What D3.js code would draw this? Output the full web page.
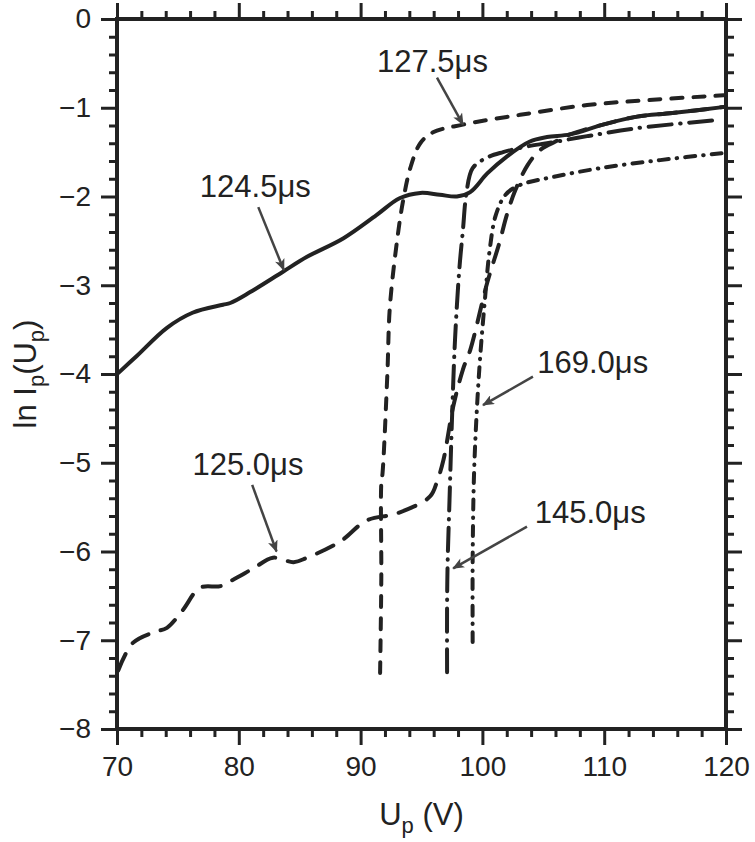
<!DOCTYPE html>
<html>
<head>
<meta charset="utf-8">
<script src="https://cdn.jsdelivr.net/npm/d3@7"></script>
<style>
  body { margin: 0; background: #fff; }
  svg { font-family: "Liberation Sans", Arial, Helvetica, sans-serif; }
  .axis .domain { display: none; }
  .axis line { stroke: #222; stroke-width: 3; }
  .axis text { font-size: 28px; fill: #222; }
</style>
</head>
<body>
<script>
// tick values
const xTicks = [70, 80, 90, 100, 110, 120];
const yTicks = [0, -1, -2, -3, -4, -5, -6, -7, -8];
const xMinor = [72, 74, 76, 78, 82, 84, 86, 88, 92, 94, 96, 98, 102, 104, 106, 108, 112, 114, 116, 118];
const yMinor = d3.range(-8, 0.01, 0.2).map(v => +v.toFixed(1)).filter(v => !Number.isInteger(v));

// 124.5 µs (solid)
const u1245 = [70.1, 71.6, 74.1, 76.2, 78.7, 79.3, 80.9, 83.6, 85.6, 88.6, 91.3, 93.2, 94.9, 96.5, 97.9, 99.0, 100.4, 102.0, 103.9, 105.3, 107.2, 109.9, 112.7, 115.6, 119.9];
const l1245 = [-3.99, -3.80, -3.48, -3.31, -3.22, -3.20, -3.08, -2.85, -2.68, -2.47, -2.21, -2.02, -1.96, -1.98, -2.00, -1.95, -1.74, -1.55, -1.38, -1.33, -1.30, -1.19, -1.10, -1.06, -0.99];

// 127.5 µs (short dashes)
const u1275 = [91.6, 91.7, 91.7, 91.8, 92.2, 92.4, 93.0, 93.5, 94.1, 94.9, 95.9, 98.4, 103.1, 108.6, 114.0, 119.8];
const l1275 = [-7.37, -6.30, -5.23, -5.12, -3.99, -3.25, -2.49, -2.04, -1.67, -1.40, -1.28, -1.19, -1.08, -0.97, -0.91, -0.86];

// 125.0 µs (long dashes)
const u1250 = [70.1, 71.3, 73.0, 74.1, 75.4, 76.8, 78.5, 79.5, 81.2, 82.8, 84.5, 85.6, 88.3, 90.5, 93.0, 95.7, 96.3, 96.8, 97.6, 98.4, 99.0, 100.4, 101.4, 102.0, 102.7, 103.7, 104.7, 106.0, 107.2, 109.9, 112.7, 115.6, 119.9];
const l1250 = [-7.34, -7.03, -6.91, -6.86, -6.66, -6.41, -6.39, -6.32, -6.19, -6.07, -6.12, -6.07, -5.89, -5.65, -5.57, -5.38, -5.20, -4.97, -4.37, -3.95, -3.73, -2.97, -2.52, -2.21, -1.93, -1.65, -1.48, -1.38, -1.30, -1.19, -1.10, -1.06, -0.99];

// 145.0 µs (dash-dot)
const u1450 = [97.1, 97.1, 97.15, 97.3, 97.5, 97.75, 98.1, 98.4, 98.7, 99.2, 100.4, 101.7, 103.9, 105.3, 108.6, 112.7, 119.2];
const l1450 = [-7.36, -6.60, -6.10, -5.42, -4.52, -3.62, -2.83, -2.38, -1.95, -1.68, -1.56, -1.50, -1.43, -1.40, -1.32, -1.23, -1.14];

// 169.0 µs (dash-dot, short)
const u1690 = [99.2, 99.2, 99.3, 99.5, 99.8, 100.2, 100.6, 101.1, 101.9, 103.1, 105.8, 109.7, 114.6, 119.8];
const l1690 = [-7.02, -6.10, -5.19, -4.52, -3.84, -3.17, -2.60, -2.21, -1.98, -1.87, -1.78, -1.68, -1.59, -1.51];

// annotation labels: text position and arrow (from -> to), in data units
const labelText = ['127.5μs', '124.5μs', '125.0μs', '169.0μs', '145.0μs'];
const labelU = [91.35, 76.8, 76.2, 104.5, 104.3];
const labelL = [-0.60, -2.0, -5.14, -3.99, -5.68];
const arrowU0 = [96.27, 81.6, 81.1, 104.15, 103.66];
const arrowL0 = [-0.66, -2.12, -5.25, -4.03, -5.72];
const arrowU1 = [98.41, 83.7, 83.1, 100.05, 97.6];
const arrowL1 = [-1.19, -2.83, -6.0, -4.35, -6.19];

const width = 755, height = 842;
const margin = {top: 19, right: 29, bottom: 113, left: 117};

const svg = d3.select('body').append('svg')
  .attr('width', width)
  .attr('height', height);

const x = d3.scaleLinear().domain([70, 120]).range([margin.left, width - margin.right]);
const y = d3.scaleLinear().domain([-8, 0]).range([height - margin.bottom, margin.top]);

const fmt = d3.format('d');

// axes: major ticks with labels on bottom/left, outward ticks everywhere
svg.append('g').attr('class', 'axis')
  .attr('transform', `translate(0,${y(-8)})`)
  .call(d3.axisBottom(x).tickValues(xTicks).tickSize(16).tickPadding(11).tickFormat(fmt));
svg.append('g').attr('class', 'axis')
  .attr('transform', `translate(0,${y(-8)})`)
  .call(d3.axisBottom(x).tickValues(xMinor).tickSize(8).tickFormat(''));
svg.append('g').attr('class', 'axis')
  .attr('transform', `translate(0,${y(0)})`)
  .call(d3.axisTop(x).tickValues(xTicks).tickSize(16).tickFormat(''));
svg.append('g').attr('class', 'axis')
  .attr('transform', `translate(0,${y(0)})`)
  .call(d3.axisTop(x).tickValues(xMinor).tickSize(8).tickFormat(''));

svg.append('g').attr('class', 'axis')
  .attr('transform', `translate(${x(70)},0)`)
  .call(d3.axisLeft(y).tickValues(yTicks).tickSize(16).tickPadding(10).tickFormat(fmt));
svg.append('g').attr('class', 'axis')
  .attr('transform', `translate(${x(70)},0)`)
  .call(d3.axisLeft(y).tickValues(yMinor).tickSize(8).tickFormat(''));
svg.append('g').attr('class', 'axis')
  .attr('transform', `translate(${x(120)},0)`)
  .call(d3.axisRight(y).tickValues(yTicks).tickSize(16).tickFormat(''));
svg.append('g').attr('class', 'axis')
  .attr('transform', `translate(${x(120)},0)`)
  .call(d3.axisRight(y).tickValues(yMinor).tickSize(8).tickFormat(''));

// frame
svg.append('rect')
  .attr('x', x(70)).attr('y', y(0))
  .attr('width', x(120) - x(70)).attr('height', y(-8) - y(0))
  .attr('fill', 'none').attr('stroke', '#222').attr('stroke-width', 4);

// curves
const series = [
  {u: u1245, l: l1245, dash: null},
  {u: u1275, l: l1275, dash: '11,11'},
  {u: u1250, l: l1250, dash: '18,13'},
  {u: u1450, l: l1450, dash: '23,8.5,0.5,8.5'},
  {u: u1690, l: l1690, dash: '10,8,0.5,8'}
];

const line = d3.line()
  .x(d => x(d[0]))
  .y(d => y(d[1]))
  .curve(d3.curveCatmullRom.alpha(0.5));

svg.append('g')
  .selectAll('path')
  .data(series)
  .enter().append('path')
  .attr('d', s => line(s.u.map((u, i) => [u, s.l[i]])))
  .attr('fill', 'none')
  .attr('stroke', '#222')
  .attr('stroke-width', 4)
  .attr('stroke-linecap', 'round')
  .attr('stroke-linejoin', 'round')
  .attr('stroke-dasharray', s => s.dash);

// arrows + labels
svg.append('defs').append('marker')
  .attr('id', 'head')
  .attr('viewBox', '0 0 12 10')
  .attr('refX', 11).attr('refY', 5)
  .attr('markerWidth', 13).attr('markerHeight', 10)
  .attr('markerUnits', 'userSpaceOnUse')
  .attr('orient', 'auto')
  .append('path')
  .attr('d', 'M0,0 L12,5 L0,10 L3,5 Z')
  .attr('fill', '#444');

const notes = svg.append('g');
labelText.forEach((t, i) => {
  notes.append('line')
    .attr('x1', x(arrowU0[i])).attr('y1', y(arrowL0[i]))
    .attr('x2', x(arrowU1[i])).attr('y2', y(arrowL1[i]))
    .attr('stroke', '#444')
    .attr('stroke-width', 2.5)
    .attr('marker-end', 'url(#head)');
  notes.append('text')
    .attr('x', x(labelU[i])).attr('y', y(labelL[i]))
    .attr('font-size', 31)
    .attr('fill', '#222')
    .text(t);
});

// axis titles
const xt = svg.append('text')
  .attr('x', (x(70) + x(120)) / 2).attr('y', 825)
  .attr('text-anchor', 'middle')
  .attr('font-size', 31)
  .attr('fill', '#222');
xt.append('tspan').text('U');
xt.append('tspan').attr('font-size', 22).attr('dy', 8).text('p');
xt.append('tspan').attr('dy', -8).text(' (V)');

const yt = svg.append('text')
  .attr('transform', `translate(36,${(y(0) + y(-8)) / 2}) rotate(-90)`)
  .attr('text-anchor', 'middle')
  .attr('font-size', 31)
  .attr('fill', '#222');
yt.append('tspan').text('ln I');
yt.append('tspan').attr('font-size', 22).attr('dy', 8).text('p');
yt.append('tspan').attr('dy', -8).text('(U');
yt.append('tspan').attr('font-size', 22).attr('dy', 8).text('p');
yt.append('tspan').attr('dy', -8).text(')');
</script>
</body>
</html>
